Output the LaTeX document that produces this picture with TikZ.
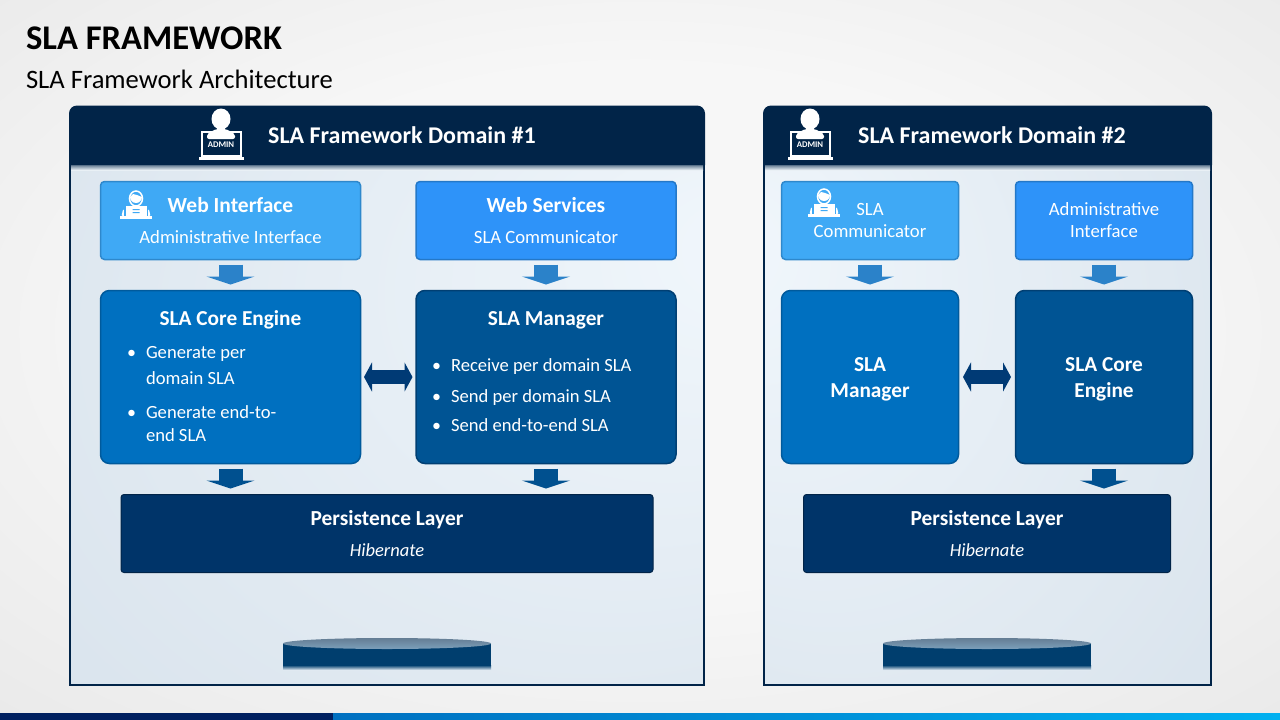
\documentclass[tikz,border=0pt]{standalone}
\usepackage{fontspec}
\setmainfont{Carlito}
\usetikzlibrary{arrows.meta,calc}
\definecolor{navy}{HTML}{012448}
\definecolor{barend}{HTML}{00B0F0}
\definecolor{barnavy}{HTML}{002060}
\definecolor{lightbox}{HTML}{3FA9F5}
\definecolor{lightedge}{HTML}{2E88CC}
\definecolor{midbox}{HTML}{2E93F9}
\definecolor{midedge}{HTML}{2478C8}
\definecolor{corebox}{HTML}{0070C0}
\definecolor{coreedge}{HTML}{005A9C}
\definecolor{mgrbox}{HTML}{005494}
\definecolor{mgredge}{HTML}{003F73}
\definecolor{persbox}{HTML}{003469}
\definecolor{upper}{HTML}{2B82C9}
\definecolor{lower}{HTML}{00508F}
\definecolor{dbl}{HTML}{003A75}
\definecolor{cyltopA}{HTML}{647D94}
\definecolor{cyltopB}{HTML}{7C9FBA}
\definecolor{cylbody}{HTML}{003E6E}
\definecolor{panelA}{HTML}{F1F7FC}
\definecolor{panelB}{HTML}{E0E9F1}
\definecolor{panelC}{HTML}{CFDBE6}
\definecolor{pageA}{HTML}{F7F7F7}
\definecolor{pageB}{HTML}{E0E0E0}
\definecolor{pageC}{HTML}{CFCFCF}
\pgfdeclareradialshading{pagebg}{\pgfpoint{0bp}{3bp}}{color(0bp)=(pageA); color(18bp)=(pageA); color(50bp)=(pageB); color(71bp)=(pageC)}
\pgfdeclareradialshading{panelbgL}{\pgfpoint{30bp}{18bp}}{color(0bp)=(panelA); color(35bp)=(panelB); color(71bp)=(panelC)}
\pgfdeclareradialshading{panelbgR}{\pgfpoint{-30bp}{18bp}}{color(0bp)=(panelA); color(35bp)=(panelB); color(71bp)=(panelC)}
\tikzset{
  x=1pt,y=-1pt,
  boxshape/.style={rectangle,rounded corners=4pt,inner sep=0pt,outer sep=0pt,line width=1.5pt,draw=#1},
  lightnode/.style={boxshape=lightedge,fill=lightbox},
  midnode/.style={boxshape=midedge,fill=midbox},
  corenode/.style={boxshape=coreedge,fill=corebox,rounded corners=9pt},
  mgrnode/.style={boxshape=mgredge,fill=mgrbox,rounded corners=9pt},
  persnode/.style={rectangle,rounded corners=3pt,inner sep=0pt,outer sep=0pt,line width=1pt,draw=navy,fill=persbox},
  txt/.style={text=white,anchor=base,inner sep=0pt,outer sep=0pt,font=\fontsize{#1}{#1}\selectfont},
  btxt/.style={text=white,anchor=base,inner sep=0pt,outer sep=0pt,font=\fontsize{#1}{#1}\selectfont\bfseries},
  itxt/.style={text=white,anchor=base,inner sep=0pt,outer sep=0pt,font=\fontsize{#1}{#1}\selectfont\itshape},
  bullettxt/.style={text=white,anchor=base west,inner sep=0pt,outer sep=0pt,align=left,font=\fontsize{18.6}{#1}\selectfont},
  dot/.style={text=white,anchor=base,inner sep=0pt,outer sep=0pt,font=\fontsize{18}{18}\selectfont},
  downarrow/.style={line width=24pt,draw=#1,-{Triangle[width=48pt,length=8pt]},shorten <=5pt,shorten >=6pt},
  bothways/.style={line width=14pt,draw=dbl,{Triangle[width=29pt,length=8pt]}-{Triangle[width=29pt,length=8pt]},shorten <=#1,shorten >=#1},
  adminicon/.pic={
    \fill[white] (0,-12) ellipse [x radius=9.5,y radius=10.5];
    \fill[white] (-4,-6) rectangle (4,0);
    \draw[white,line width=1.5pt] (-19,1) rectangle (20,25);
    \fill[white,rounded corners=2pt] (-14,8) -- (-14,3) -- (-5,-2) -- (5,-2) -- (14,3) -- (14,8) -- cycle;
    \fill[white] (-22,26) rectangle (23,29);
    \node[btxt=8.7] (-adm) at (0,16.5) {ADMIN};
  },
  pics/agenticon/.style={code={
    \fill[white,rounded corners=1pt] (-14.5,13) -- (-13,6.5) -- (13,6.5) -- (14.5,13) -- cycle;
    \draw[white,line width=1.5pt] (0,-4.5) ellipse [x radius=6.5,y radius=7.5];
    \fill[white] (-6,-6) arc[start angle=180,end angle=0,radius=6] -- (1,-8) -- (-3,-9) -- cycle;
    \fill[#1] (-12,5) rectangle (12,13);
    \fill[white] (-10.5,3) rectangle (10.5,13);
    \fill[white] (-16,13) rectangle (16,15.5);
    \fill[#1] (-3.5,6) rectangle (3.5,7) (-3.5,9) rectangle (3.5,10);
  }}
}
\newcommand{\domainframe}[6]{%
  \shade[shading=#6,draw=navy,line width=1.5pt] (#1,165) rectangle (#2,685);
  \shade[top color=navy!55!panelB,bottom color=panelB!70!white] (#1+1,165) rectangle (#2-1,170);
  \fill[navy,rounded corners=8pt] (#1-1,165) -- (#1-1,105.5) -- (#2+1,105.5) -- (#2+1,165);
  \node[btxt=24] (#5) at (#4,143) {SLA Framework Domain \##3};
}
\newcommand{\disk}[1]{%
  \shade[top color=cylbody,bottom color=panelB] (#1-104,665) rectangle (#1+104,670);
  \fill[cylbody] (#1-104,643.5) rectangle (#1+104,665);
  \shade[top color=cyltopA,bottom color=cyltopB] (#1,643.5) ellipse [x radius=104,y radius=5.5];
}
\begin{document}
\begin{tikzpicture}
\useasboundingbox (0,0) rectangle (1280,720);
\shade[shading=pagebg] (0,0) rectangle (1280,720);
\fill[barnavy] (0,713) rectangle (333,720);
\shade[left color=corebox,right color=barend] (333,713) rectangle (1280,720);

\node[btxt=34.6,text=black,anchor=base west] (title) at (26,49.5) {SLA FRAMEWORK};
\node[txt=26.6,text=black,anchor=base west] (subtitle) at (26,88) {SLA Framework Architecture};

% ---------- Domain 1
\domainframe{70}{704}{1}{402}{head1}{panelbgL}
\pic at (221,131) {adminicon};

\node[lightnode,minimum width=260pt,minimum height=78pt] (web) at (230.5,220.5) {};
\node[midnode,minimum width=260pt,minimum height=78pt] (svc) at (546,220.5) {};
\node[corenode,minimum width=260pt,minimum height=173pt] (core) at (230.5,377) {};
\node[mgrnode,minimum width=260pt,minimum height=173pt] (mgr) at (546,377) {};
\node[persnode,minimum width=532pt,minimum height=78pt] (pers) at (387,533.5) {};

\pic at (136,203) {agenticon=lightbox};
\node[btxt=21.5] (webT) at (230.5,212) {Web Interface};
\node[txt=18.7] (webS) at (230.5,243) {Administrative Interface};
\node[btxt=21.5] (svcT) at (546,212) {Web Services};
\node[txt=18.7] (svcS) at (546,243) {SLA Communicator};

\node[btxt=21.3] (coreT) at (230.5,325) {SLA Core Engine};
\node[dot] (cb1) at (131.5,358) {•};
\node[bullettxt=26] (ci1) at (146,384) {Generate per\\domain SLA};
\node[dot] (cb2) at (131.5,418) {•};
\node[bullettxt=23] (ci2) at (146,441) {Generate end-to-\\end SLA};

\node[btxt=21.3] (mgrT) at (546,325) {SLA Manager};
\node[dot] (mb1) at (436.5,371) {•};
\node[bullettxt=18] (mi1) at (451,371) {Receive per domain SLA};
\node[dot] (mb2) at (436.5,402) {•};
\node[bullettxt=18] (mi2) at (451,402) {Send per domain SLA};
\node[dot] (mb3) at (436.5,431) {•};
\node[bullettxt=18] (mi3) at (451,431) {Send end-to-end SLA};

\node[btxt=21.4] (persT) at (387,525) {Persistence Layer};
\node[itxt=18.5] (persS) at (387,556) {Hibernate};

\draw[downarrow=upper] (web.south) -- (core.north);
\draw[downarrow=upper] (svc.south) -- (mgr.north);
\draw[bothways=3.5pt] (core.east) -- (mgr.west);
\draw[downarrow=lower] (core.south) -- (core.south |- pers.north);
\draw[downarrow=lower] (mgr.south) -- (mgr.south |- pers.north);
\disk{387}

% ---------- Domain 2
\domainframe{764}{1211}{2}{992}{head2}{panelbgR}
\pic at (810,131) {adminicon};

\node[lightnode,minimum width=177pt,minimum height=78pt] (comm) at (870,220.5) {};
\node[midnode,minimum width=177pt,minimum height=78pt] (admin) at (1104,220.5) {};
\node[corenode,minimum width=177pt,minimum height=173pt] (mgrB) at (870,377) {};
\node[mgrnode,minimum width=177pt,minimum height=173pt] (coreB) at (1104,377) {};
\node[persnode,minimum width=367pt,minimum height=78pt] (persB) at (987,533.5) {};

\pic at (824,201) {agenticon=lightbox};
\node[txt=18.7] (commA) at (870,215) {SLA};
\node[txt=18.7] (commB) at (870,237) {Communicator};
\node[txt=18.7] (adminA) at (1104,215) {Administrative};
\node[txt=18.7] (adminB) at (1104,237) {Interface};

\node[btxt=21.3] (mgrBa) at (870,371) {SLA};
\node[btxt=21.3] (mgrBb) at (870,397) {Manager};
\node[btxt=21.3] (coreBa) at (1104,371) {SLA Core};
\node[btxt=21.3] (coreBb) at (1104,397) {Engine};

\node[btxt=21.4] (persBT) at (987,525) {Persistence Layer};
\node[itxt=18.5] (persBS) at (987,556) {Hibernate};

\draw[downarrow=upper] (comm.south) -- (mgrB.north);
\draw[downarrow=upper] (admin.south) -- (coreB.north);
\draw[bothways=4.5pt] (mgrB.east) -- (coreB.west);
\draw[downarrow=lower] (coreB.south) -- (coreB.south |- persB.north);
\disk{987}
\end{tikzpicture}
\end{document}
